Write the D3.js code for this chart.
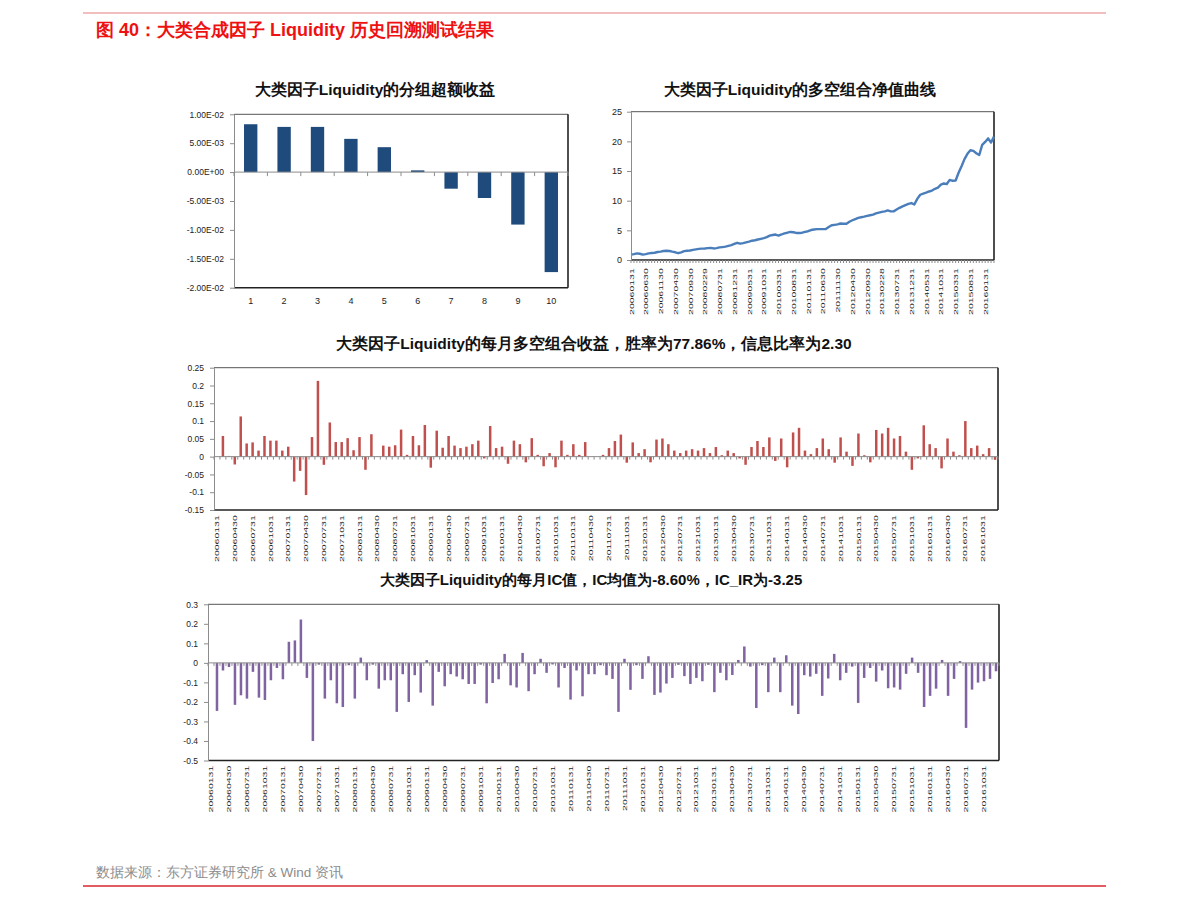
<!DOCTYPE html>
<html>
<head>
<meta charset="utf-8">
<script src="https://cdn.jsdelivr.net/npm/d3@7"></script>
<style>
  body { margin: 0; background: #fff; }
  text { font-family: "Liberation Sans", Arial, sans-serif; }
</style>
</head>
<body>
<script>
// ---- data ----
var groups = ["1", "2", "3", "4", "5", "6", "7", "8", "9", "10"];
var groupExcess = [0.00828, 0.00782, 0.00782, 0.00575, 0.00431, 0.0003, -0.00287, -0.00448, -0.00908, -0.0173];
var groupTicks = [0.01, 0.005, 0, -0.005, -0.01, -0.015, -0.02];

// long-short net value, 2006-01 .. 2016-04 (monthly)
var netValue = [
  0.9, 1.0, 1.12, 1.05, 0.9, 1.0, 1.12, 1.18, 1.22, 1.35,
  1.42, 1.52, 1.55, 1.52, 1.4, 1.3, 1.15, 1.3, 1.5, 1.55,
  1.6, 1.7, 1.8, 1.88, 1.92, 1.95, 2.0, 2.05, 1.95, 2.0,
  2.12, 2.18, 2.25, 2.38, 2.5, 2.7, 2.9, 2.75, 2.85, 2.98,
  3.1, 3.25, 3.33, 3.45, 3.57, 3.7, 3.85, 4.1, 4.22, 4.29,
  4.12, 4.3, 4.5, 4.6, 4.73, 4.68, 4.56, 4.56, 4.6, 4.75,
  4.85, 5.05, 5.15, 5.2, 5.2, 5.2, 5.22, 5.55, 5.85, 5.92,
  6.0, 6.15, 6.12, 6.1, 6.45, 6.7, 6.9, 7.1, 7.2, 7.3,
  7.45, 7.55, 7.65, 7.85, 8.0, 8.12, 8.2, 8.35, 8.2, 8.2,
  8.5, 8.8, 9.04, 9.25, 9.45, 9.6, 9.35, 10.3, 11.0, 11.2,
  11.35, 11.55, 11.7, 12.0, 12.2, 12.7, 12.9, 12.8, 13.5, 13.35,
  13.4, 14.7, 15.8, 17.0, 17.9, 18.5, 18.4, 18.0, 17.7, 19.4,
  19.9, 20.5, 19.8, 20.8
];
var netTicks = [0, 5, 10, 15, 20, 25];

// monthly long-short return, 2006-01 .. 2016-12 (first month empty)
var monthlyReturn = [null,
  0.058, 0.002, -0.022, 0.113, 0.037, 0.040, 0.017, 0.058, 0.045, 0.045,
  0.017, 0.028, -0.070, -0.040, -0.108, 0.055, 0.213, -0.023, 0.096, 0.041,
  0.041, 0.052, 0.018, 0.055, -0.037, 0.063, 0.001, 0.031, 0.028, 0.032,
  0.076, 0.005, 0.058, 0.032, 0.089, -0.031, 0.073, 0.025, 0.058, 0.031,
  0.024, 0.028, 0.035, 0.045, -0.005, 0.086, 0.024, 0.028, -0.020, 0.045,
  0.035, -0.016, 0.052, 0.005, -0.027, 0.010, -0.030, 0.045, 0.005, 0.035,
  0.005, 0.041, 0.000, 0.000, 0.005, 0.024, 0.044, 0.062, -0.017, 0.040,
  0.010, 0.021, -0.016, 0.048, 0.051, 0.035, 0.017, 0.010, 0.017, 0.021,
  0.017, 0.024, 0.010, 0.027, 0.004, 0.017, 0.010, -0.005, -0.023, 0.027,
  0.044, 0.027, 0.054, -0.012, 0.051, -0.030, 0.068, 0.081, 0.017, 0.007,
  0.024, 0.051, 0.021, -0.017, 0.054, 0.014, -0.026, 0.065, 0.004, -0.016,
  0.075, 0.065, 0.081, 0.051, 0.058, 0.014, -0.037, -0.005, 0.088, 0.035,
  0.024, -0.033, 0.051, 0.014, 0.004, 0.100, 0.024, 0.031, 0.007, 0.024,
  -0.009
];
var returnTicks = [0.25, 0.2, 0.15, 0.1, 0.05, 0, -0.05, -0.1, -0.15];

// monthly IC, 2006-01 .. 2016-12 (first month empty)
var monthlyIC = [null,
  -0.246, -0.039, -0.021, -0.215, -0.166, -0.183, -0.046, -0.178, -0.190, -0.089,
  -0.026, -0.084, 0.108, 0.115, 0.222, -0.077, -0.400, -0.009, -0.183, -0.089,
  -0.207, -0.226, -0.012, -0.183, 0.027, -0.089, -0.009, -0.132, -0.089, -0.089,
  -0.251, -0.058, -0.200, -0.063, -0.152, 0.014, -0.219, -0.046, -0.120, -0.058,
  -0.070, -0.084, -0.108, -0.108, -0.009, -0.207, -0.103, -0.084, 0.046, -0.115,
  -0.126, 0.051, -0.145, -0.058, 0.021, -0.051, -0.008, -0.126, -0.026, -0.188,
  -0.039, -0.171, -0.058, -0.058, -0.012, -0.063, -0.082, -0.251, 0.021, -0.138,
  -0.012, -0.082, 0.034, -0.164, -0.152, -0.106, -0.077, -0.010, -0.068, -0.108,
  -0.077, -0.094, -0.010, -0.150, -0.051, -0.089, -0.062, 0.015, 0.084, -0.019,
  -0.231, -0.012, -0.150, 0.027, -0.150, 0.039, -0.219, -0.262, -0.063, -0.070,
  -0.056, -0.169, -0.080, 0.046, -0.089, -0.051, -0.019, -0.205, -0.077, -0.026,
  -0.096, -0.039, -0.130, -0.126, -0.137, -0.056, 0.027, -0.051, -0.226, -0.169,
  -0.132, 0.015, -0.169, -0.082, 0.009, -0.333, -0.137, -0.101, -0.094, -0.082,
  -0.043
];
var icTicks = [0.3, 0.2, 0.1, 0, -0.1, -0.2, -0.3, -0.4, -0.5];

// month-end date labels
function monthEnds(year, count) {
  var out = [];
  for (var i = 0; i < count; i++) {
    var d = new Date(Date.UTC(year, i + 1, 0));
    out.push(d3.utcFormat("%Y%m%d")(d));
  }
  return out;
}
var months = monthEnds(2006, 132);
var netDates = months.slice(0, netValue.length);
var monthTickLabels = months.filter(function(d, i) { return i % 3 == 0; });
var netTickLabels = netDates.filter(function(d, i) { return i % 5 == 0; });

var titleFont = "'Noto Sans CJK SC', sans-serif";

var svg = d3.select("body").append("svg")
  .attr("width", 1191)
  .attr("height", 899);

//page header and footer
svg.append("line").attr("x1", 83).attr("x2", 1106).attr("y1", 13).attr("y2", 13)
  .attr("stroke", "#e58080").attr("stroke-width", 1.2);
svg.append("text").attr("x", 96).attr("y", 36)
  .attr("font-family", titleFont).attr("font-weight", "bold")
  .attr("font-size", 18).attr("fill", "#ee1111")
  .text("图 40：大类合成因子 Liquidity 历史回溯测试结果");
svg.append("text").attr("x", 96).attr("y", 877)
  .attr("font-family", titleFont).attr("font-size", 13.5).attr("fill", "#8c8c8c")
  .text("数据来源：东方证券研究所 & Wind 资讯");
svg.append("line").attr("x1", 83).attr("x2", 1106).attr("y1", 886).attr("y2", 886)
  .attr("stroke", "#d9262c").attr("stroke-width", 1.5);

function chartTitle(cx, cy, text, size) {
  svg.append("text").attr("x", cx).attr("y", cy)
    .attr("text-anchor", "middle").attr("dy", "0.35em")
    .attr("font-family", titleFont).attr("font-weight", "bold")
    .attr("font-size", size).attr("fill", "#111")
    .text(text);
}

function plotBox(x0, x1, y0, y1) {
  svg.append("line").attr("x1", x0).attr("x2", x1).attr("y1", y0).attr("y2", y0)
    .attr("stroke", "#555").attr("stroke-width", 1);
  svg.append("line").attr("x1", x1).attr("x2", x1).attr("y1", y0).attr("y2", y1)
    .attr("stroke", "#222").attr("stroke-width", 1.6);
  svg.append("line").attr("x1", x0).attr("x2", x1).attr("y1", y1).attr("y2", y1)
    .attr("stroke", "#222").attr("stroke-width", 1.6);
}

function styleY(g, size) {
  g.select(".domain").attr("stroke", "#8c8c8c");
  g.selectAll(".tick line").attr("stroke", "#8c8c8c");
  g.selectAll(".tick text").attr("font-size", size).attr("fill", "#222")
    .attr("font-family", "'Liberation Sans', Arial, sans-serif");
}

function fmtNum(d) { return String(+d.toFixed(2)); }

function fmtExp(d) {
  if (Math.abs(d) < 1e-12) return "0.00E+00";
  var e = Math.floor(Math.log10(Math.abs(d)) + 1e-9);
  var m = d / Math.pow(10, e);
  return m.toFixed(2) + "E" + (e < 0 ? "-" : "+") + String(Math.abs(e)).padStart(2, "0");
}

// rotated, stretched date labels under an axis
function dateLabels(g) {
  g.select(".domain").remove();
  g.selectAll(".tick line").remove();
  g.selectAll(".tick text")
    .attr("font-size", 6).attr("fill", "#222")
    .attr("text-anchor", "end")
    .attr("x", -3).attr("y", 0).attr("dy", "0.35em")
    .attr("transform", "rotate(-90) scale(1.75,1)");
}

// ---- chart 1: group excess return ----
(function() {
  var x0 = 234, x1 = 568, y0 = 114.3, y1 = 287.7;
  chartTitle(375, 90, "大类因子Liquidity的分组超额收益", 15.5);

  var x = d3.scaleBand().domain(groups).range([x0, x1]).paddingInner(0.6).paddingOuter(0.3);
  var y = d3.scaleLinear().domain([-0.02, 0.01]).range([y1, y0]);

  plotBox(x0, x1, y0, y1);

  svg.append("g").selectAll("rect")
    .data(groupExcess)
    .enter().append("rect")
      .attr("x", function(d, i) { return x(groups[i]); })
      .attr("width", x.bandwidth())
      .attr("y", function(d) { return y(Math.max(0, d)); })
      .attr("height", function(d) { return Math.abs(y(d) - y(0)); })
      .attr("fill", "#1f4a7c");

  //zero line with category ticks
  svg.append("line").attr("x1", x0).attr("x2", x1).attr("y1", y(0)).attr("y2", y(0))
    .attr("stroke", "#8c8c8c");
  svg.append("g").selectAll("line")
    .data(d3.range(groups.length + 1))
    .enter().append("line")
      .attr("x1", function(k) { return x0 + k * x.step(); })
      .attr("x2", function(k) { return x0 + k * x.step(); })
      .attr("y1", y(0)).attr("y2", y(0) + 4)
      .attr("stroke", "#8c8c8c");

  var gy = svg.append("g").attr("transform", "translate(" + x0 + ",0)")
    .call(d3.axisLeft(y).tickValues(groupTicks).tickFormat(fmtExp).tickSize(4).tickPadding(6).tickSizeOuter(0));
  styleY(gy, 8.5);

  var gx = svg.append("g").attr("transform", "translate(0," + y1 + ")")
    .call(d3.axisBottom(x).tickSize(0).tickPadding(10));
  gx.select(".domain").remove();
  gx.selectAll(".tick text").attr("font-size", 9).attr("fill", "#222");
})();

// ---- chart 2: long-short net value ----
(function() {
  var x0 = 631, x1 = 994, y0 = 111.7, y1 = 260;
  chartTitle(800, 90, "大类因子Liquidity的多空组合净值曲线", 15.5);

  var x = d3.scalePoint().domain(netDates).range([x0, x1]);
  var y = d3.scaleLinear().domain([0, 25]).range([y1, y0]);

  plotBox(x0, x1, y0, y1);

  svg.append("g").selectAll("line")
    .data(netDates)
    .enter().append("line")
      .attr("x1", function(d) { return x(d); })
      .attr("x2", function(d) { return x(d); })
      .attr("y1", y1).attr("y2", y1 + 3)
      .attr("stroke", "#8c8c8c");

  var line = d3.line()
    .x(function(d, i) { return x(netDates[i]); })
    .y(function(d) { return y(d); });

  svg.append("path")
    .data([netValue])
    .attr("d", line)
    .attr("fill", "none")
    .attr("stroke", "#4a7ebb")
    .attr("stroke-width", 2.4)
    .attr("stroke-linejoin", "round");

  var gy = svg.append("g").attr("transform", "translate(" + x0 + ",0)")
    .call(d3.axisLeft(y).tickValues(netTicks).tickSize(4).tickPadding(5).tickSizeOuter(0));
  styleY(gy, 9);

  var gx = svg.append("g").attr("transform", "translate(0," + (y1 + 3) + ")")
    .call(d3.axisBottom(x).tickValues(netTickLabels));
  dateLabels(gx);
})();

// ---- monthly bar charts ----
function monthlyBars(cfg) {
  var x = d3.scaleBand().domain(months).range([cfg.x0, cfg.x1]).paddingInner(0.58).paddingOuter(0.29);
  var y = d3.scaleLinear().domain(cfg.domain).range([cfg.y1, cfg.y0]);

  chartTitle(cfg.titleX, cfg.titleY, cfg.title, cfg.titleSize);
  plotBox(cfg.x0, cfg.x1, cfg.y0, cfg.y1);

  var bars = svg.append("g");
  cfg.values.forEach(function(v, i) {
    if (v === null) return;
    bars.append("rect")
      .attr("x", x(months[i]))
      .attr("width", x.bandwidth())
      .attr("y", y(Math.max(0, v)))
      .attr("height", Math.abs(y(v) - y(0)))
      .attr("fill", cfg.color);
  });

  //zero line with category ticks
  svg.append("line").attr("x1", cfg.x0).attr("x2", cfg.x1).attr("y1", y(0)).attr("y2", y(0))
    .attr("stroke", "#8c8c8c");
  svg.append("g").selectAll("line")
    .data(d3.range(months.length + 1))
    .enter().append("line")
      .attr("x1", function(k) { return cfg.x0 + k * x.step(); })
      .attr("x2", function(k) { return cfg.x0 + k * x.step(); })
      .attr("y1", y(0)).attr("y2", y(0) + 3)
      .attr("stroke", "#8c8c8c");

  var gy = svg.append("g").attr("transform", "translate(" + cfg.x0 + ",0)")
    .call(d3.axisLeft(y).tickValues(cfg.ticks).tickFormat(fmtNum).tickSize(4).tickPadding(6).tickSizeOuter(0));
  styleY(gy, 8.5);

  var gx = svg.append("g").attr("transform", "translate(0," + cfg.y1 + ")")
    .call(d3.axisBottom(x).tickValues(monthTickLabels));
  dateLabels(gx);
}

monthlyBars({
  values: monthlyReturn, ticks: returnTicks, domain: [-0.15, 0.25],
  x0: 214, x1: 998, y0: 367.7, y1: 510,
  color: "#c0504d",
  title: "大类因子Liquidity的每月多空组合收益，胜率为77.86%，信息比率为2.30",
  titleX: 594, titleY: 344, titleSize: 15.5
});

monthlyBars({
  values: monthlyIC, ticks: icTicks, domain: [-0.5, 0.3],
  x0: 208, x1: 999, y0: 604.3, y1: 760.5,
  color: "#8064a2",
  title: "大类因子Liquidity的每月IC值，IC均值为-8.60%，IC_IR为-3.25",
  titleX: 591, titleY: 580, titleSize: 15
});
</script>
</body>
</html>
